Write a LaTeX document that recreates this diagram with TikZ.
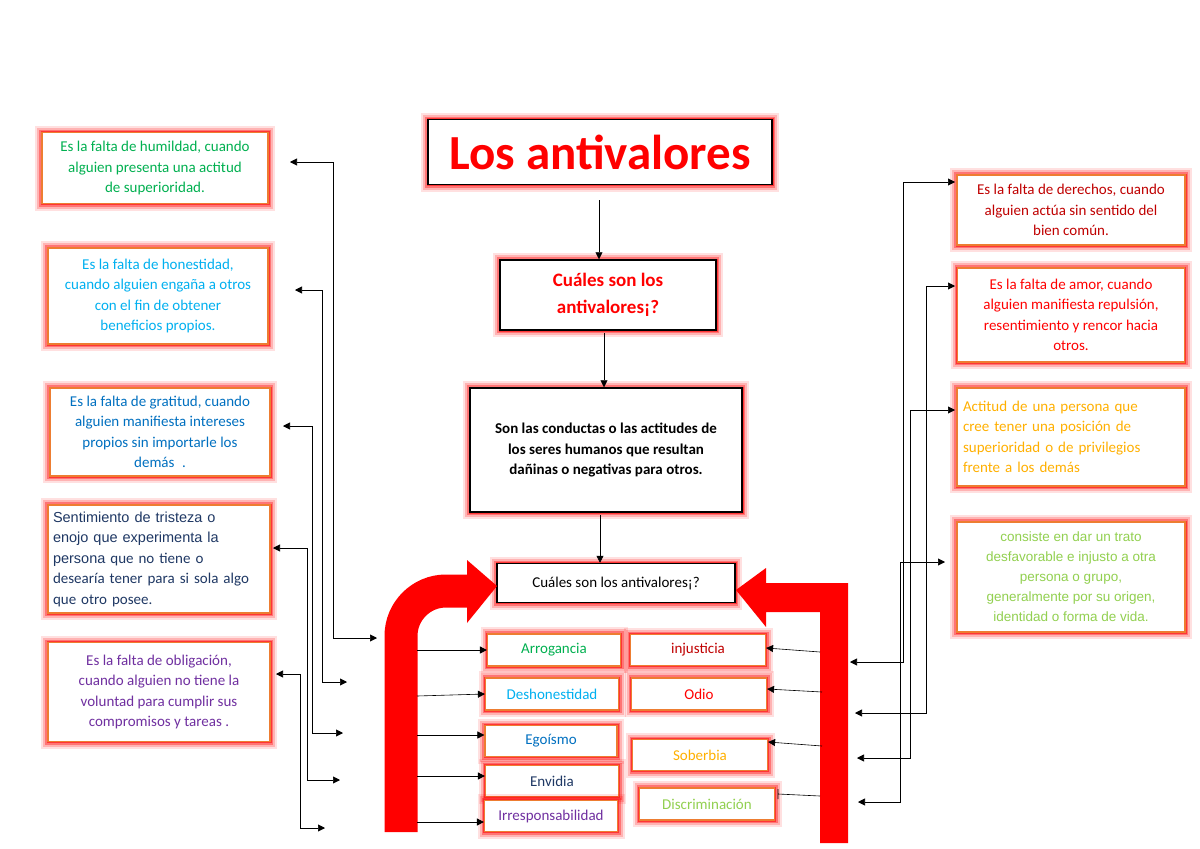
\documentclass[tikz,border=0pt]{standalone}
\usepackage{fontspec}
\setmainfont{Carlito}
\newfontfamily\arialf{Liberation Sans}
\usetikzlibrary{arrows.meta}
\definecolor{cgreen}{HTML}{00B050}
\definecolor{ccyan}{HTML}{00B0F0}
\definecolor{cblue}{HTML}{0070C0}
\definecolor{cnavy}{HTML}{1F3864}
\definecolor{cpurp}{HTML}{7030A0}
\definecolor{cdred}{HTML}{C00000}
\definecolor{cgold}{HTML}{FFB000}
\definecolor{clime}{HTML}{92D050}
\definecolor{corng}{HTML}{ED7D31}
\tikzset{
 x=1pt,y=-1pt,
 glow/.style={preaction={draw=red,line width=14pt,opacity=0.12},preaction={draw=red,line width=10pt,opacity=0.2},preaction={draw=red,line width=6pt,opacity=0.35},preaction={draw=red!85!white,line width=3pt,opacity=0.8},fill=white},
 desc/.style={glow,draw=corng,line width=1.5pt,align=center,font=\fontsize{15}{20.5}\selectfont,inner sep=2pt},
 item/.style={glow,draw=corng,line width=1.2pt,align=center,font=\fontsize{15}{17}\selectfont,inner sep=0pt},
 cbox/.style={glow,draw=black,line width=1.5pt,align=center,fill=white,inner sep=0pt},
 arr/.style={-{Triangle[length=7pt,width=7pt]},line width=0.6pt,black},
}
\begin{document}
\begin{tikzpicture}
\useasboundingbox[fill=white] (0,0) rectangle (1200,849);
% center column
\node[cbox,minimum width=344,minimum height=65,font=\fontsize{49}{52}\selectfont\bfseries,text=red] (t) at (600,152) {Los antivalores};
\node[cbox,minimum width=216,minimum height=70,font=\fontsize{19}{27}\selectfont\bfseries,text=red] (q) at (608,295) {Cuáles son los\\antivalores¡?};
\node[cbox,minimum width=272,minimum height=124,font=\fontsize{15}{20.5}\selectfont\bfseries] (d) at (606,450) {Son las conductas o las actitudes de\\los seres humanos que resultan\\dañinas o negativas para otros.};
\node[cbox,minimum width=238,minimum height=39,font=\fontsize{15}{17}\selectfont] (q2) at (616,583) {Cuáles son los antivalores¡?};
\coordinate (a1) at (599,200); \coordinate (a2) at (604,333); \coordinate (a3) at (600,515);
\draw[arr] (a1) -- (q.north -| a1);
\draw[arr] (a2) -- (d.north -| a2);
\draw[arr] (a3) -- (q2.north -| a3);
% red arrows
\draw[red,line width=33pt] (401,832) -- (401,636) arc (180:270:45) -- (470,591);
\fill[red] (467,560) -- (497,586) -- (467,623) -- cycle;
\fill[red] (848,843) -- (848,583) -- (766,583) -- (766,568) -- (736,590) -- (766,627) -- (766,612) -- (820,612) -- (820,843) -- cycle;
% items
\node[item,minimum width=133,minimum height=32,text=cgreen] (i1) at (554,650) {Arrogancia};
\node[item,minimum width=133,minimum height=32,text=ccyan] (i2) at (552,694) {Deshonestidad};
\node[item,minimum width=132,minimum height=31,text=cblue] (i3) at (551,741) {Egoísmo};
\node[item,minimum width=133,minimum height=31,text=cnavy] (i4) at (552,781) {Envidia};
\node[item,minimum width=133,minimum height=31,text=cpurp] (i5) at (551,816) {Irresponsabilidad};
\node[item,minimum width=135,minimum height=31,text=cdred] (j1) at (698,650) {injusticia};
\node[item,minimum width=135,minimum height=32,text=red] (j2) at (699,694) {Odio};
\node[item,minimum width=135,minimum height=31,text=cgold] (j3) at (700,755) {Soberbia};
\node[item,minimum width=135,minimum height=32,text=clime] (j4) at (707,804) {Discriminación};
\draw[arr] (417,650) -- (i1.west);
\draw[arr] (417,696) -- (i2.west);
\draw[arr] (417,735) -- (i3.west|-0,735);
\draw[arr] (417,776) -- (i4.west|-0,776);
\draw[arr] (417,822) -- (i5.west|-0,822);
\draw[arr] (820,652) -- (j1.east|-0,648);
\draw[arr] (822,692) -- (j2.east|-0,689);
\draw[arr] (822,746) -- (j3.east|-0,742);
\draw[line width=0.6pt] (820,796) -- (778,794) (778,789) -- (778,799);
% left descriptions
\node[desc,minimum width=226,minimum height=71,text=cgreen] (l1) at (155,168) {Es la falta de humildad, cuando\\alguien presenta una actitud\\de superioridad.};
\node[desc,minimum width=220,minimum height=96,text=ccyan] (l2) at (158,296) {Es la falta de honestidad,\\cuando alguien engaña a otros\\con el fin de obtener\\beneficios propios.};
\node[desc,minimum width=220,minimum height=88,text=cblue] (l3) at (160,432) {Es la falta de gratitud, cuando\\alguien manifiesta intereses\\propios sin importarle los\\demás\enspace.};
\node[desc,minimum width=222,minimum height=108,text=cnavy,align=left,text width=212] (l4) at (159,559) {{\arialf\fontsize{14.5}{20.5}\selectfont Sentimiento de tristeza o\\enojo que experimenta la\\persona} que no tiene o\\desearía tener para si sola algo\\que otro posee.};
\node[desc,minimum width=222,minimum height=99,text=cpurp] (l5) at (159,692) {Es la falta de obligación,\\cuando alguien no tiene la\\voluntad para cumplir sus\\compromisos y tareas .};
\draw[arr] (333,162) -- (290,162); \draw[arr] (333,162) -- (333,638) -- (377,638);
\draw[arr] (322,290) -- (295,290); \draw[arr] (322,290) -- (322,682) -- (347,682);
\draw[arr] (312,426) -- (283,426); \draw[arr] (312,426) -- (312,733) -- (343,733);
\draw[arr] (307,548) -- (273,548); \draw[arr] (307,548) -- (307,780) -- (340,780);
\draw[arr] (300,674) -- (276,674); \draw[arr] (300,674) -- (300,828) -- (325,828);
% right descriptions
\node[desc,minimum width=228,minimum height=70,text=cdred] (r1) at (1071,210) {Es la falta de derechos, cuando\\alguien actúa sin sentido del\\bien común.};
\node[desc,minimum width=227,minimum height=94,text=red] (r2) at (1071,315) {Es la falta de amor, cuando\\alguien manifiesta repulsión,\\resentimiento y rencor hacia\\otros.};
\node[desc,minimum width=228,minimum height=98,text=cgold,align=left,text width=216] (r3) at (1071,437) {Actitud de una persona que\\cree tener una posición de\\superioridad o de privilegios\\frente a los demás};
\node[desc,minimum width=228,minimum height=110,text=clime,font=\arialf\fontsize{13.5}{20}\selectfont] (r4) at (1071,577) {consiste en dar un trato\\desfavorable e injusto a otra\\persona o grupo,\\generalmente por su origen,\\identidad o forma de vida.};
\draw[arr] (903,182) -- (955,182); \draw[arr] (903,182) -- (903,662) -- (850,662);
\draw[arr] (926,286) -- (955,286); \draw[arr] (926,286) -- (926,713) -- (855,713);
\draw[arr] (910,410) -- (955,410); \draw[arr] (910,410) -- (910,758) -- (857,758);
\draw[arr] (900,562) -- (945,562); \draw[arr] (900,562) -- (900,802) -- (858,802);
\end{tikzpicture}
\end{document}
